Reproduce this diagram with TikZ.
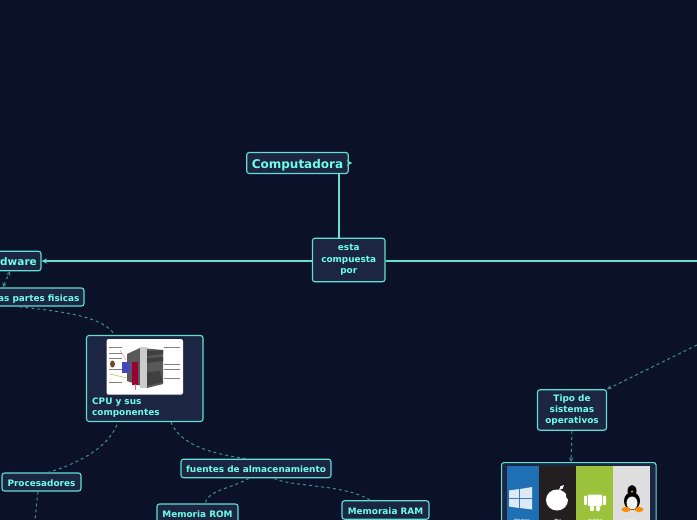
\documentclass[tikz,border=0pt]{standalone}
\usepackage{fontspec}
\setmainfont{DejaVu Sans}
\usepackage{tikz}
\usetikzlibrary{arrows}
\definecolor{fondo}{HTML}{0A1129}
\definecolor{caja}{HTML}{1C2541}
\definecolor{turq}{HTML}{6FFFE9}
\definecolor{linea}{HTML}{62E0D2}
\definecolor{tenue}{HTML}{45908F}
\definecolor{winazul}{HTML}{1F6FB5}
\definecolor{macnegro}{HTML}{231F20}
\definecolor{andverde}{HTML}{9CC13A}
\definecolor{lingris}{HTML}{DEDEDE}
\tikzset{
  tema/.style={draw=linea,fill=caja,text=turq,rounded corners=2.5pt,line width=1.1pt,inner sep=0pt,align=center,font=\bfseries\fontsize{8.9}{11.2}\selectfont,
    execute at begin node={\rule{0pt}{10pt}},execute at end node={\rule[-2pt]{0pt}{2pt}}},
  liga/.style={draw=linea,line width=1.4pt},
  punteada/.style={draw=tenue,line width=1pt,dash pattern=on 3pt off 3pt},
  >=stealth
}
\begin{document}
\begin{tikzpicture}
  [x=1pt,y=-1pt]
  \useasboundingbox[fill=fondo] (0,0) rectangle (697,520);
  \clip (0,0) rectangle (697,520);

  \coordinate (fin) at (697,261);
  \coordinate (sis) at (697,345);
  \coordinate (baja) at (35,520);

  \node (comp) [tema,minimum width=101.5pt,minimum height=21pt,font=\bfseries\fontsize{12}{14}\selectfont,execute at begin node={\rule[-3pt]{0pt}{16pt}}] at (297.5,163) {Computadora};
  \node (esta) [tema,minimum width=72.5pt,minimum height=43.5pt] at (348.75,260) {esta\\compuesta\\por};
  \node (hard) [tema,minimum width=66pt,minimum height=19.5pt,font=\bfseries\fontsize{10.5}{12}\selectfont] at (8,261) {Hardware};
  \node (part) [tema,minimum width=96pt,minimum height=18pt] at (36,297) {Las partes fisicas};
  \node (cpu) [tema,minimum width=116.5pt,minimum height=86pt,execute at begin node={},execute at end node={}] at (144.75,378.5) {};
  \node (cput) [text=turq,inner sep=0pt,align=left,font=\bfseries\fontsize{8.9}{11}\selectfont,anchor=north west] at (92,398) {CPU y sus\\componentes};
  \node (proc) [tema,minimum width=79pt,minimum height=18pt] at (41.5,482) {Procesadores};
  \node (fuen) [tema,minimum width=150pt,minimum height=18.5pt] at (256,468.5) {fuentes de almacenamiento};
  \node (rom) [tema,minimum width=81pt,minimum height=18pt] at (197.5,513) {Memoria ROM};
  \node (ram) [tema,minimum width=87pt,minimum height=18.5pt] at (385.5,510) {Memoraia RAM};
  \node (tipo) [tema,minimum width=69pt,minimum height=40.5pt] at (572,410) {Tipo de\\sistemas\\operativos};
  \node (so) [tema,minimum width=154.5pt,minimum height=90pt,anchor=north west,execute at begin node={},execute at end node={}] at (501,462) {};

  \draw [liga] (comp.south -| 339,0) -- (esta.north -| 339,0);
  \draw [liga,->] (esta.west |- 0,261) -- (hard.east |- 0,261);
  \draw [liga] (esta.east |- fin) -- (fin);
  \draw [liga,->] (comp.east) -- ++(3.5,0);
  \draw [punteada,<->] (part.north -| 3,0) .. controls (5,282) and (8,276) .. (hard.south -| 10,0);
  \draw [punteada,shorten <=3pt] (cpu.north -| 115,0) .. controls (100,316) and (60,311) .. (part.south -| 16,0);
  \draw [punteada,shorten <=3pt] (cpu.south -| 118,0) .. controls (108,447) and (80,463) .. (proc.north -| 48,0);
  \draw [punteada] (cpu.south -| 171,0) .. controls (180,445) and (212,454) .. (fuen.north -| 247,0);
  \draw [punteada] (fuen.south -| 249,0) .. controls (230,489) and (208,490) .. (rom.north -| 205,0);
  \draw [punteada] (fuen.south -| 274,0) .. controls (290,487) and (345,484) .. (ram.north -| 370,0);
  \draw [punteada] (proc.south -| 38,0) .. controls (37,500) and (36,510) .. (baja);
  \draw [punteada,->] (sis) -- (tipo.north east);
  \draw [punteada,->] (tipo.south) -- (so.north -| 571,0);

  % imagen del gabinete
  \fill [white,rounded corners=1.5pt] (106.5,339) rectangle (183,394.5);
  \fill [gray!70!black] (127,354) -- (140,348) -- (163,350) -- (163,384) -- (147,388) -- (127,381) -- cycle;
  \fill [gray!40] (140,347) rectangle (147,388);
  \fill [purple!80!black] (132,362) rectangle (138,385);
  \fill [blue!45!gray] (122,362) rectangle (130,373);
  \fill [black!75] (147,351) -- (163,350) -- (163,354) -- (147,356) -- cycle;
  \fill [black!75] (147,358) -- (163,357) -- (163,361) -- (147,363) -- cycle;
  \fill [black!75] (147,372) -- (160,371) -- (163,382) -- (147,386) -- cycle;
  \fill [brown!60!black] (112.5,364) ellipse (2.5 and 3.5);
  \foreach \yy in {347,353,358,369,382}
    \draw [gray,line width=.4pt] (109,\yy) -- (122,\yy);
  \foreach \yy in {347,364,369,378}
    \draw [gray,line width=.4pt] (164,\yy) -- (180,\yy);
  \draw [red!60,line width=.3pt] (120,350) -- (126,360);
  \draw [red!60,line width=.3pt] (135,390) -- (135,384);
  \draw [yellow!70!black,line width=.5pt] (110,374) -- (127,378);

  % imagen de sistemas operativos
  \fill [winazul] (506.5,466) rectangle (539,520);
  \fill [macnegro] (539,466) rectangle (576,520);
  \fill [andverde] (576,466) rectangle (613,520);
  \fill [lingris] (613,466) rectangle (650,520);
  \fill [white!85!winazul] (509,490.5) -- (519,489) -- (519,498) -- (509,498) -- cycle
    (520,489) -- (532,487) -- (532,498) -- (520,498) -- cycle
    (509,499) -- (519,499) -- (519,508) -- (509,506.5) -- cycle
    (520,499) -- (532,499) -- (532,509.5) -- (520,508) -- cycle;
  \fill [white] (557,500) ellipse (11 and 10.5);
  \fill [white] (559,490) .. controls (559,487) and (561,485) .. (564,485) .. controls (564,488) and (562,490) .. (559,490) -- cycle;
  \fill [macnegro] (569.5,496) circle (3.5);
  \fill [white] (588,494.5) arc (180:0:7) -- cycle;
  \fill [white,rounded corners=1pt] (588,495.5) rectangle (602,506);
  \fill [white,rounded corners=1pt] (590,506) rectangle (594,511);
  \fill [white,rounded corners=1pt] (596,506) rectangle (600,511);
  \fill [white,rounded corners=1pt] (584,495.5) rectangle (587,505);
  \fill [white,rounded corners=1pt] (603,495.5) rectangle (606,505);
  \fill [black] (632,491) ellipse (4.5 and 6);
  \fill [black] (632,501) ellipse (8 and 9);
  \fill [white!90!gray] (632,503) ellipse (5.5 and 6.5);
  \fill [orange!90!yellow] (626,509.5) ellipse (4.5 and 2.5);
  \fill [orange!90!yellow] (639,509.5) ellipse (4.5 and 2.5);
  \fill [orange!90!yellow] (632,491.5) ellipse (1.5 and 1);
  \foreach \xx/\txt in {522/Windows,558/Mac,595/Android,631/Linux}
    \node (\txt) [text=white,inner sep=0pt,font=\bfseries\fontsize{3}{3}\selectfont] at (\xx,520) {\txt};
\end{tikzpicture}
\end{document}
